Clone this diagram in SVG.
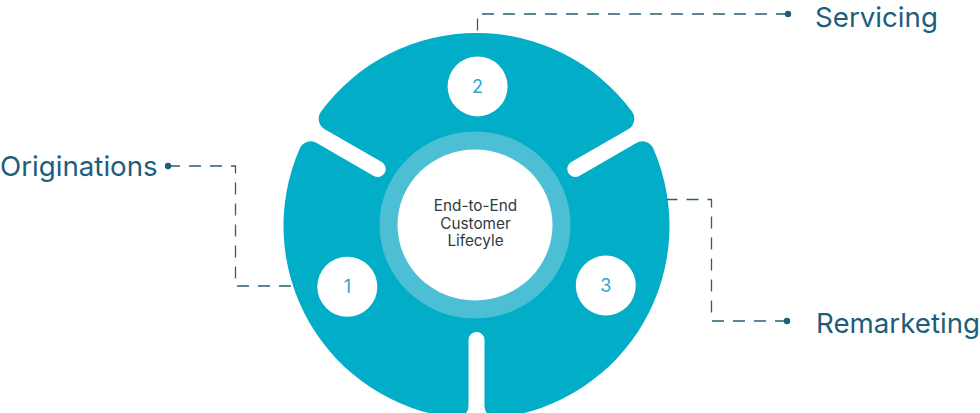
<svg xmlns="http://www.w3.org/2000/svg" width="980" height="413" viewBox="0 0 980 413">
  <style>
    .disc { fill: #02ADC7; }
    .ring { fill: #4DBFD4; }
    .hole { fill: #FFFFFF; }
    .num { font-family: Inter, "Noto Sans", sans-serif; font-size: 18px; fill: #2BA9CF; text-anchor: middle; }
    .center { font-family: Inter, "Noto Sans", sans-serif; font-size: 15.3px; fill: #2D3A44; text-anchor: middle; }
    .label { font-family: Inter, "Noto Sans", sans-serif; font-size: 27.7px; fill: #1D5E7C; }
    .conn { fill: none; stroke: #2B5E7B; stroke-width: 1.3; stroke-dasharray: 12 9; }
    .dot { fill: #1D5E7C; }
  </style>
  <g id="wheel">
    <path class="disc" d="M 653.284 148.559 A 193 193 0 0 1 497.826 417.82 A 12 12 0 0 1 484.5 405.89 L 484.5 340 A 8 8 0 0 0 468.5 340 L 468.5 405.89 A 12 12 0 0 1 455.174 417.82 A 193 193 0 0 1 299.716 148.559 A 12 12 0 0 1 316.711 142.983 L 373.773 175.928 A 8 8 0 0 0 381.773 162.072 L 324.711 129.127 A 12 12 0 0 1 321.042 111.621 A 193 193 0 0 1 631.958 111.621 A 12 12 0 0 1 628.289 129.127 L 571.227 162.072 A 8 8 0 0 0 579.227 175.928 L 636.289 142.983 A 12 12 0 0 1 653.284 148.559 Z"/>
  </g>
  <g id="center-node">
    <ellipse class="ring" cx="475" cy="225" rx="95.5" ry="93.5"/>
    <ellipse class="hole" cx="475" cy="225" rx="77.5" ry="75.5"/>
    <text class="center" x="475.5" y="210.5">End-to-End</text>
    <text class="center" x="475.5" y="228.5">Customer</text>
    <text class="center" x="475.5" y="246">Lifecyle</text>
  </g>
  <g id="step-1">
    <circle class="hole" cx="347.3" cy="286.7" r="30"/>
    <text class="num" x="347.3" y="293">1</text>
  </g>
  <g id="step-2">
    <circle class="hole" cx="477.6" cy="86.4" r="30"/>
    <text class="num" x="477.6" y="93">2</text>
  </g>
  <g id="step-3">
    <circle class="hole" cx="605.8" cy="285.6" r="30"/>
    <text class="num" x="605.8" y="292">3</text>
  </g>
  <g id="label-originations">
    <text class="label" x="0" y="175.5">Originations</text>
  </g>
  <g id="label-servicing">
    <text class="label" x="815" y="27">Servicing</text>
  </g>
  <g id="label-remarketing">
    <text class="label" x="816" y="333.3">Remarketing</text>
  </g>
  <g id="connectors">
    <path class="conn" d="M 168 166 H 235.5 V 286 H 294"/>
    <circle class="dot" cx="168" cy="166" r="3.2"/>
    <path class="conn" d="M 788 14 H 477.5 V 33"/>
    <circle class="dot" cx="788" cy="14" r="3.2"/>
    <path class="conn" d="M 787 321 H 711.5 V 199.5 H 667"/>
    <circle class="dot" cx="787" cy="321" r="3.2"/>
  </g>
</svg>
